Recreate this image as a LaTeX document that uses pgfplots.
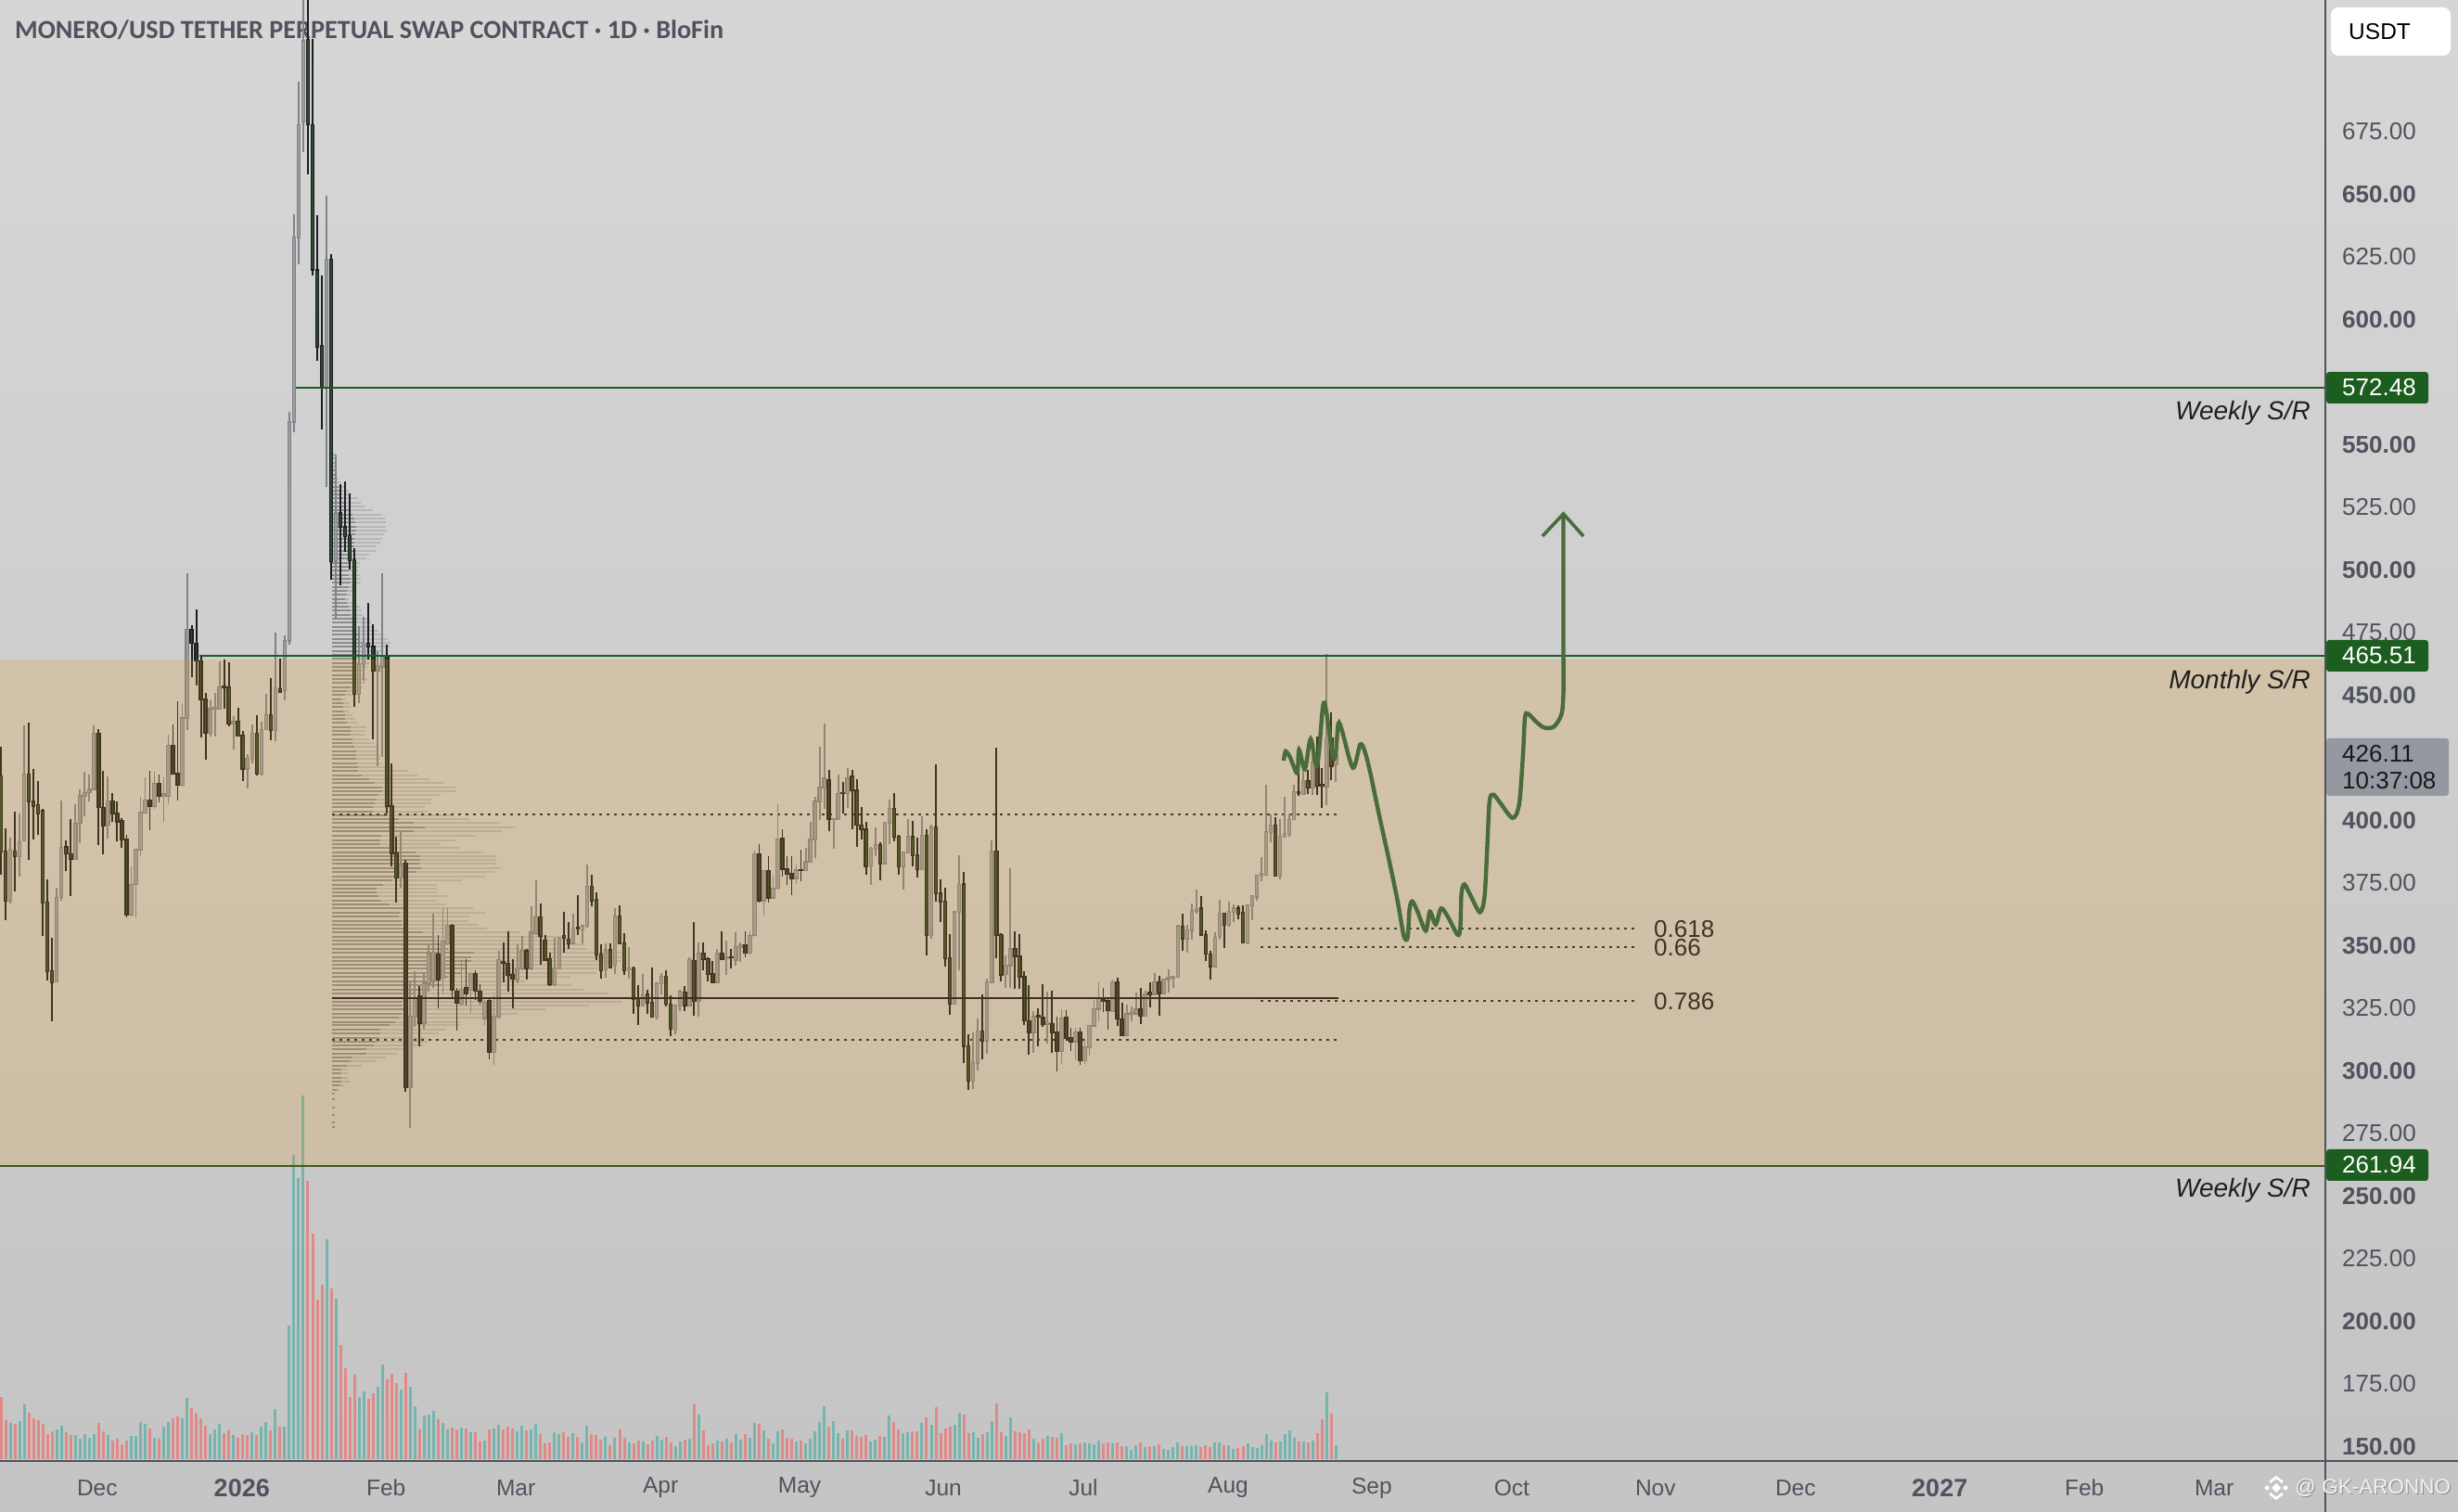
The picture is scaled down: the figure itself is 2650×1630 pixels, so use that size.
\documentclass[border=0pt]{standalone}
\usepackage{pgfplots}
\usepackage{pgfplotstable}
\usepackage{fontspec}
\pgfplotsset{compat=1.18}
\setmainfont{Liberation Sans}
\newfontfamily\titlefont{Carlito}
\definecolor{axc}{HTML}{50535E}
\definecolor{upb}{HTML}{808288}
\definecolor{upf}{HTML}{9A9CA2}
\definecolor{dnb}{HTML}{1C1C22}
\definecolor{dnf}{HTML}{2F4A2A}
\definecolor{ovl}{RGB}{225,150,25}
\definecolor{srg}{HTML}{1B5E20}
\definecolor{vt}{HTML}{76B5AE}
\definecolor{vr}{HTML}{E08A88}
\definecolor{proj}{HTML}{4A6B3A}
\definecolor{tick}{HTML}{50535E}
\pgfplotsset{
  ebar/.style 2 args={draw=none,mark=none,forget plot,error bars/.cd,y dir=plus,y explicit,error mark=none,error bar style={draw=#1,line width=#2,solid}},
  xbar2/.style 2 args={draw=none,mark=none,forget plot,error bars/.cd,x dir=plus,x explicit,error mark=none,error bar style={draw=#1,line width=2pt,solid,opacity=#2}},
}
\pgfplotstableread{
k t b h l
2 388.2 367.7 393.1 366.6
4 391.2 385.5 402.7 377.6
5 418.3 391.9 437.8 391.5
12 369 335.6 373 335.6
13 389.1 369.3 407.8 367.7
16 398.8 384.6 406.3 384.2
17 409.6 398.8 412.2 390.8
18 410.8 409.6 419.3 401.4
19 412.2 411 418.2 407.4
20 434.7 412.4 437.8 412
23 407.6 398.1 417.6 392.8
28 374.3 362.4 381.6 361.7
29 388.2 374.6 388.8 361.1
30 403 388.2 409.3 385.8
31 407.8 403 417.3 402.7
33 414.6 405.6 419.5 404.7
35 410.3 409.7 417.3 399.4
36 429.8 409.7 434.1 406.3
39 440.7 414 446.4 413.3
40 476.1 440.7 498.6 436
45 444.4 434.9 448 433.5
46 445 444.6 450.7 433.5
47 453.2 444.6 463.3 444.4
50 439.5 438.4 441.7 428.2
53 424.5 420.6 426.5 412.6
54 434.7 424.5 438.2 422.6
56 436.2 418.6 439.5 417.9
57 442.1 436.2 450.3 436
59 452.7 436 474.8 431.4
61 471.7 451.9 473.7 447.7
62 559.1 471.7 563 470
63 632.6 559.1 642 554.7
64 677.6 632.6 694.8 622
65 711 678.8 730 666.7
70 623.8 572.6 649.1 533
72 522.5 503.5 546 480.3
77 462.2 450.3 477.4 446.8
78 470.2 462.2 481 455.6
81 461.6 459.8 467.5 421.6
82 465.5 461.3 498.6 425.2
86 382.2 377.2 395.9 373.2
88 321.6 293.3 335.8 277
89 328.7 321.6 339.6 317.4
91 334.8 319.1 338.6 316.7
92 346.4 334.8 350 331.5
93 347.1 335.8 362.7 333
95 351.7 337.2 364.8 330.8
96 358 350.7 364.8 350
99 332.3 326.6 344.6 325.9
101 338.6 332.3 338.9 323
104 327.3 321 328.3 318.4
106 321.6 307.5 330.1 302.5
107 344.3 321.6 347.9 320.9
111 340.8 336.5 350.4 334.8
112 347.8 340.8 353.8 340
114 355.2 341 365.6 340.3
115 361.3 354.9 375.9 354.2
119 340.8 334.4 353.1 334
120 352.8 340.8 353.5 340.5
123 356.8 351 362.7 350.7
125 357.8 356.4 357.8 350.7
126 373.6 357.8 382.5 357
130 348.1 340.3 350.7 337.2
132 361.7 342.2 364.8 338.6
135 340.8 340.3 349.3 336.9
138 330.1 325.9 338.6 325.9
141 334.8 321.6 335.4 320.6
142 337.6 334.8 339 330.4
145 325.9 316.7 326.2 314.6
146 331.5 325.9 332.2 323.8
148 344.3 326.2 345.4 325.9
150 346.9 327.7 351.4 321.6
154 346.9 335.4 348.6 335.1
156 345.4 345 352.1 338.4
158 349.3 344.3 355.2 341.9
159 350 349.3 351.4 343.3
161 354 347.1 355.6 346.4
162 386.5 354 387.8 353.5
164 379.7 368 379.7 362
166 372.9 369.1 377.9 368.7
167 392.3 372.9 406.4 372.4
171 380 376.9 382.2 374.7
173 383.3 380 389 379.7
174 392.3 383.3 399.4 383.1
175 407.4 392.3 409.3 384.9
176 412.9 407.4 429.3 400.1
177 416.6 412.9 438.6 404.7
179 400.6 400.3 401 388.6
180 410.6 400.3 418.2 400.1
182 416.8 410.8 420.7 405
187 388.6 381.8 389.2 374.2
188 390.2 388.6 397 385.5
190 399.1 382.8 399.4 382.8
191 404.7 399.1 408.1 390.5
194 387.1 381.5 387.4 372.3
195 393.3 387 400.3 386.8
198 393.9 380.3 401.6 380
200 397 354.1 398.1 352.8
205 363.3 326.7 363.9 326.5
206 374.1 363.3 385.9 340.2
209 303.2 296.1 315.2 292.7
210 315.6 303.2 320.7 300.1
212 335.3 312.1 336.8 306.8
213 387.6 335.3 391.9 334.9
216 342.1 338.6 346 333
217 348.5 342.1 380.8 333
222 321.6 315.4 323.8 307.2
225 319.1 318.5 331.6 310.9
228 321 307.8 324.7 302.6
231 315.4 311.7 317 304.1
233 309.3 304.1 313 302.6
234 318 309.3 318.3 305.9
235 324.7 318 328.1 317.7
236 328.8 324.7 335.3 319.9
239 335.5 323.8 336.4 323.5
242 322.6 314.3 326.5 314
243 323.2 322.6 325.7 319.9
244 324.4 322.8 331.2 322.6
246 330.6 321.9 331.8 321.6
248 335.3 330.6 339 330.2
250 336.4 331 336.8 330.6
251 337 336.4 340.5 331.2
252 337.6 337 338 333
253 357.8 337.6 358.1 337.4
255 356.2 352.8 358.1 347.3
256 363.9 356.2 366.6 352.2
257 364.5 363.9 372.3 362.7
261 353.2 341.7 355.3 341.7
262 362.7 353.7 368.2 352.2
264 363.5 358.1 367.4 357.7
265 364.8 363.5 366.4 359.4
268 366 351.3 366 350.6
269 369.7 366 370.1 360.2
270 377.9 369.5 378.1 368
271 378.5 377.9 385.3 375.6
272 395.4 378.1 414.1 378.1
273 397.9 395.1 402.4 391.3
275 393.5 377.9 400.3 376.5
276 394.5 393.5 409.3 393.5
277 400.3 394.5 402.8 393.5
278 411.4 400.3 414.1 400.1
280 415.7 410.4 420 410.2
282 422.9 412.9 429.3 410.2
285 432.4 413.3 466.3 406.1
287 426.1 422.2 430 415.4
}\upT
\pgfplotstableread{
k t b h l
0 417.7 387.5 429.2 378.3
1 387.5 367.7 396.8 360.2
3 387.5 385.5 403.6 371.7
6 418.3 407.4 438.8 384.2
7 407.4 405.8 420.6 392.4
8 406 402.7 415.6 394.1
9 403.7 367 404.4 353.8
10 367.3 339.7 376.3 335.9
11 339.9 335.3 353.1 319.8
14 389.2 386.6 392.1 379.6
15 386.6 384.7 400.5 369.7
21 434.7 405.1 436.4 390.2
22 405.1 397.7 419.7 386.5
24 407.6 402.7 410.8 399.4
25 402.7 399.2 407.4 391.5
26 399.7 392.4 400.7 389.1
27 392.5 362.4 394.1 361.1
32 407.8 405.8 419.7 396.1
34 414.6 409.6 418.2 407.2
37 429.8 418.5 438.2 418.5
38 418.5 414 447.4 408
41 476.1 470.8 477.8 457.2
42 470.6 463.6 484 453.9
43 463.6 448.3 465.8 433.1
44 448.3 434.7 450.7 424.3
48 453.6 453 464.1 444.4
49 453.2 438.4 462.9 437.5
51 439.5 433.8 444.8 433.5
52 433.8 420.6 435.5 415.6
55 434.7 418.6 441.9 417.7
58 442.1 436 456.9 432.1
60 452.3 451.3 464.5 451
66 711.6 677.6 730 657.9
67 677.6 619.8 712 617.6
68 619.5 589 641.5 583.5
69 589.5 572.6 617.3 555.9
71 623.8 503.2 626 495.9
73 522.5 517 534 493.7
74 517 513.4 535.2 507
75 513.4 503.8 530.6 499.9
76 503.8 450.3 508.6 445.3
79 470.4 469.2 486.7 464.2
80 469.2 459.8 478.4 432.2
83 465.5 405.6 470.2 402.7
84 405.6 386.9 422.6 381.6
85 386.9 377.2 393.5 367.3
87 382.8 293.3 384 291.6
90 329.7 319.1 334 309.9
94 346.4 336.5 354.2 324.8
97 358 332.3 358.5 329.4
98 331.8 327.3 333.2 315.9
100 333 330.8 344.6 325.9
102 338.6 332 340.3 328.3
103 331.8 328 334.7 326.6
105 328 307.5 328.7 304.6
108 343.6 342.9 351.4 335.4
109 342.9 338.2 355.6 331.5
110 338.2 336.8 344.6 324.8
113 347.8 341 348.6 336.5
116 361.3 353.8 366.6 342.2
117 352 344.3 354.2 343.9
118 344.6 334.4 347.1 334
121 353.8 353.2 363.4 347.1
122 352.5 350.7 359.2 348.6
124 357 356.6 370.2 354.2
127 373.6 368 378.4 365.6
128 368.2 346.4 371.2 344.3
129 346.4 340 350.3 336.9
131 348.1 341.2 350.7 340.8
133 361.7 351 366 350.7
134 351 340 355 338.4
136 340.8 328.7 341.5 322.8
137 328.7 325.9 334.1 318.4
139 330.4 327.3 332.5 322.6
140 327.3 321.6 341.2 321.6
143 337.6 326.6 340 325.5
144 326.6 316.7 330.1 313.8
147 331.3 326.2 334 323.8
149 344 327.7 359.2 322
151 346.9 344.6 351.1 340
152 344.6 338.6 345.3 335.8
153 338.6 335.4 343.9 335.1
155 346.9 344.7 355.8 344.3
157 345.4 345.1 348.6 340.8
160 350 347.1 355.8 345.4
163 386.5 368 390.6 367
165 379.7 369.1 385.7 367
168 392.6 380.6 396.3 377.5
169 380.6 378.7 385.5 374.2
170 378.5 376.9 385.5 370.1
172 380.2 380 388.2 375.7
178 416 400.3 420.1 395.8
181 411 410.7 415.1 402.8
183 417.4 411.8 420.1 396.4
184 411.8 398.1 416.4 389.5
185 397.9 396.3 405.3 392.3
186 396.3 381.5 399.4 378.4
189 390.2 382.8 391.1 376
192 404.7 393.5 410.8 391.7
193 393.5 381.5 394.2 378.4
196 393.3 386.1 399.7 381.5
197 386.1 380.3 392.9 377.1
199 393.9 354.1 396.3 346
201 397 370.7 422.2 367.6
202 370.7 367.6 376.3 359.4
203 367.6 344.8 373.2 341.7
204 345 326.7 354.4 322.3
207 374.4 309.9 379.2 303
208 309.9 296.1 314.6 292.4
211 315.6 311.9 330.6 304.7
214 387.6 354.1 429 344.8
215 354.1 338.4 354.9 335.5
218 348.5 345.8 355.7 332.7
219 345.8 337.6 354.4 332.7
220 337.4 320.1 339.6 318.3
221 319.9 315.4 334.1 306.5
223 321.9 321.5 324.8 309.9
224 321.1 318.5 334.6 317.6
226 318.6 315.2 331.8 307.2
227 315.4 307.8 321.6 299.8
229 321.4 313 324.2 312.1
230 313.1 311.7 317 307.8
232 315.4 304.1 317 302.5
237 328.8 327.8 333.1 323.6
238 327.8 324 329 316.4
240 335.5 320.7 337 318
241 320.4 314.3 327.2 314
245 324.4 321.9 333 318.6
247 331.1 330.6 335.3 325.4
249 335.3 331 337.8 322
254 357.5 352.8 362.7 347.9
258 364.8 354.3 369.7 354.1
259 354.3 346.7 355.9 343.8
260 346.6 341.7 348 336.5
263 362.7 358.1 363 349.1
266 364.8 362.7 366 360.5
267 363.1 351.3 366 351.3
274 397.9 377.9 401.2 377.9
279 411.4 410.8 418.8 409.6
281 415.7 412.9 420 410.6
283 422.9 413.6 433.6 410.2
284 414.1 413.6 420.7 405
286 432.8 421.7 442.9 416.1
}\dnT
\pgfplotstableread{
p o i
546 4 2
544.4 4 2
542.8 4 2
541.2 4 2
539.6 5 3
538 5 3
536.4 7 4
534.8 10 5
533.2 14 7
531.6 18 9
530 21 10
528.4 28 12
526.8 31 13
525.2 36 15
523.6 44 18
522 54 22
520.4 57 24
518.8 58 25
517.2 58 26
515.6 59 26
514 56 25
512.4 54 24
510.8 52 24
509.2 48 24
507.6 47 24
506 40 22
504.4 37 22
502.8 30 20
501.2 29 18
499.6 28 18
498 30 18
496.4 31 20
494.8 30 20
493.2 25 18
491.6 22 16
490 20 16
488.4 18 14
486.8 24 16
485.2 30 18
483.6 32 20
482 33 20
480.4 38 22
478.8 42 22
477.2 45 24
475.6 50 26
474 55 28
472.4 60 30
470.8 63 32
469.2 62 32
467.6 55 30
466 48 28
464.4 42 26
462.8 40 24
461.2 38 24
459.6 35 22
458 32 22
456.4 38 24
454.8 36 22
453.2 33 20
451.6 27 16
450 21 14
448.4 15 10
446.8 18 12
445.2 20 12
443.6 18 12
442 22 14
440.4 25 14
438.8 28 16
437.2 37 20
435.6 36 20
434 36 20
432.4 40 22
430.8 45 22
429.2 50 24
427.6 50 26
426 51 26
424.4 52 26
422.8 54 27
421.2 62 28
419.6 82 28
418 92 32
416.4 105 40
414.8 120 46
413.2 133 54
411.6 134 54
410 117 50
408.4 107 48
406.8 107 46
405.2 100 44
403.6 103 44
402 130 60
400.6 148 72
398.9 182 88
397.1 198 100
395.5 183 88
393.8 155 53
392 133 52
390.6 117 52
388.9 138 70
387.2 163 90
385.8 177 95
384.3 177 95
382.7 177 95
381 182 96
379.3 175 90
377.6 165 68
376 140 65
374.3 113 55
372.8 113 48
371.2 113 48
369.7 125 50
368 113 53
366.3 122 62
364.8 152 82
363.1 165 73
361.5 148 72
359.9 147 75
358.3 158 75
356.8 167 82
355.2 203 98
353.5 248 108
352 255 112
350.4 272 118
348.8 275 125
347.1 312 153
345.4 312 150
343.9 312 150
342.2 288 145
340.8 287 145
339.1 285 140
337.5 257 125
335.8 208 105
334.1 258 118
332.5 272 105
330.9 298 90
329.1 322 78
327.7 313 75
326.2 277 75
324.5 230 78
322.8 200 75
321.2 175 72
319.5 138 68
318.1 138 62
316.4 123 52
314.8 115 52
313.1 102 50
311.6 103 48
310 98 45
308.5 85 37
306.9 70 37
305.2 58 22
303.8 47 20
302.1 32 16
300.5 17 10
299 17 10
297.3 18 10
295.7 20 10
294.1 13 8
292.5 7 5
290.9 3 3
288.5 3 3
285.5 3 3
282.5 3 3
279.5 3 3
277.7 3 3
}\profT
\begin{document}
\begin{tikzpicture}
\useasboundingbox (0pt,0pt) rectangle (2650pt,1630pt);
\shade[top color=black!16,bottom color=black!23] (0pt,0pt) rectangle (2650pt,1630pt);
\begin{scope}[x=1pt,y=-1pt,yshift=1630pt]
\node[anchor=west,inner sep=0pt,text=axc] at (16,32) {\titlefont\bfseries\fontsize{28.2}{30}\selectfont MONERO/USD TETHER PERPETUAL SWAP CONTRACT · 1D · BloFin};
\end{scope}
% volume
\begin{axis}[at={(0pt,55pt)},anchor=south west,scale only axis,width=2507pt,height=1575pt,
  xmin=-0.2,xmax=499.7,ymin=-5,ymax=4720,hide axis,clip=true]
\addplot[ycomb,vt,line width=3pt,mark=none] table[row sep=\\] {
x y\\
2 118\\ 4 124\\ 5 178\\ 12 97\\ 13 109\\ 16 79\\ 17 67\\ 18 82\\ 19 70\\ 20 82\\ 23 79\\ 28 76\\ 29 76\\ 30 121\\ 31 115\\ 33 70\\ 35 106\\ 36 121\\ 39 133\\ 40 199\\ 45 82\\ 46 97\\ 47 115\\ 50 79\\ 54 88\\ 56 106\\ 57 121\\ 59 163\\ 61 106\\ 62 433\\ 63 985\\ 64 910\\ 65 1177\\ 70 712\\ 72 520\\ 77 202\\ 78 220\\ 81 235\\ 82 307\\ 86 226\\ 88 235\\ 89 172\\ 91 142\\ 92 145\\ 93 157\\ 95 118\\ 96 97\\ 99 103\\ 101 88\\ 104 61\\ 106 100\\ 107 112\\ 111 91\\ 112 109\\ 114 97\\ 115 115\\ 119 88\\ 120 82\\ 123 85\\ 125 55\\ 126 109\\ 130 73\\ 132 70\\ 135 55\\ 138 58\\ 141 76\\ 142 64\\ 145 43\\ 146 58\\ 148 67\\ 150 145\\ 154 61\\ 156 67\\ 158 82\\ 159 64\\
161 69\\ 162 117\\ 164 93\\ 166 51\\ 167 90\\ 171 57\\ 173 51\\ 174 66\\ 175 90\\ 176 120\\ 177 171\\ 179 123\\ 180 84\\ 182 93\\ 187 57\\ 188 63\\ 190 72\\ 191 141\\ 194 84\\ 195 87\\ 198 117\\ 200 111\\ 205 111\\ 206 150\\ 209 87\\ 210 69\\ 212 87\\ 213 123\\ 216 75\\ 217 135\\ 222 66\\ 225 75\\ 228 84\\ 231 48\\ 233 54\\ 234 51\\ 235 48\\ 236 60\\ 239 51\\ 242 42\\ 243 30\\ 244 45\\ 246 39\\ 248 42\\ 250 33\\ 251 30\\ 252 39\\ 253 54\\ 255 42\\ 256 42\\ 257 45\\ 261 54\\ 262 54\\ 264 45\\ 265 33\\ 268 51\\ 269 39\\ 270 36\\ 271 45\\ 272 81\\ 273 60\\ 275 57\\ 276 81\\ 277 93\\ 278 69\\ 280 57\\ 282 60\\ 285 216\\ 287 45\\
};
\addplot[ycomb,vr,line width=3pt,mark=none] table[row sep=\\] {
x y\\
0 202\\ 1 127\\ 3 115\\ 6 151\\ 7 133\\ 8 127\\ 9 115\\ 10 82\\ 11 91\\ 14 88\\ 15 79\\ 21 118\\ 22 91\\ 24 61\\ 25 67\\ 26 49\\ 27 61\\ 32 100\\ 34 67\\ 37 133\\ 38 139\\ 41 166\\ 42 151\\ 43 133\\ 44 109\\ 48 85\\ 49 94\\ 51 70\\ 52 82\\ 53 79\\ 55 79\\ 58 94\\ 60 106\\ 66 901\\ 67 730\\ 68 517\\ 69 565\\ 71 553\\ 73 370\\ 74 295\\ 75 202\\ 76 274\\ 79 196\\ 80 214\\ 83 259\\ 84 277\\ 85 247\\ 87 280\\ 90 97\\ 94 130\\ 97 103\\ 98 97\\ 100 100\\ 102 88\\ 103 58\\ 105 97\\ 108 97\\ 109 106\\ 110 100\\ 113 94\\ 116 82\\ 117 52\\ 118 55\\ 121 88\\ 122 73\\ 124 73\\ 127 82\\ 128 79\\ 129 64\\ 131 46\\ 133 97\\ 134 70\\ 136 52\\ 137 61\\ 139 49\\ 140 61\\ 143 73\\ 144 55\\ 147 64\\ 149 178\\ 151 94\\ 152 46\\ 153 52\\ 155 58\\ 157 55\\
160 81\\ 163 114\\ 165 66\\ 168 96\\ 169 69\\ 170 66\\ 172 60\\ 178 105\\ 181 66\\ 183 93\\ 184 75\\ 185 72\\ 186 78\\ 189 75\\ 192 120\\ 193 96\\ 196 90\\ 197 90\\ 199 135\\ 201 168\\ 202 84\\ 203 99\\ 204 105\\ 207 144\\ 208 84\\ 211 81\\ 214 180\\ 215 87\\ 218 90\\ 219 87\\ 220 84\\ 221 96\\ 223 54\\ 224 66\\ 226 72\\ 227 69\\ 229 45\\ 230 51\\ 232 51\\ 237 51\\ 238 54\\ 240 54\\ 241 42\\ 245 54\\ 247 42\\ 249 48\\ 254 42\\ 258 39\\ 259 45\\ 260 39\\ 263 45\\ 266 36\\ 267 42\\ 274 54\\ 279 57\\ 281 54\\ 283 84\\ 284 129\\ 286 147\\
};
\end{axis}
% price
\begin{axis}[at={(0pt,55pt)},anchor=south west,scale only axis,width=2507pt,height=1575pt,
  xmin=-0.2,xmax=499.7,ymin=144.25,ymax=727.4,
  axis line style={draw=none},major tick length=0pt,
  ytick pos=right,yticklabel pos=right,xtick pos=bottom,
  ytick={150,175,200,225,250,275,300,325,350,375,400,425,450,475,500,525,550,600,625,650,675},
  yticklabels={\textbf{150.00},175.00,\textbf{200.00},225.00,\textbf{250.00},275.00,\textbf{300.00},325.00,\textbf{350.00},375.00,\textbf{400.00},,\textbf{450.00},475.00,\textbf{500.00},525.00,\textbf{550.00},\textbf{600.00},625.00,\textbf{650.00},675.00},
  yticklabel style={font=\fontsize{26}{28}\selectfont,text=tick,anchor=west,inner sep=0pt,xshift=18pt},
  xtick={20.7,51.8,82.8,110.7,141.8,171.7,202.6,232.7,263.8,294.7,324.8,355.7,385.8,416.8,447.9,475.8},
  xticklabels={Dec,\textbf{\fontsize{27}{28}\selectfont 2026},Feb,Mar,Apr,May,Jun,Jul,Aug,Sep,Oct,Nov,Dec,\textbf{\fontsize{27}{28}\selectfont 2027},Feb,Mar},
  xticklabel style={font=\fontsize{24.5}{28}\selectfont,text=tick,anchor=center,inner sep=0pt,yshift=-29pt},
]
% volume profile
\addplot[xbar2={gray}{0.32}] table[x expr=71.2,y=p,x error plus expr=\thisrow{o}/5.015] {\profT};
\addplot[xbar2={black!62}{0.48}] table[x expr=71.2,y=p,x error plus expr=\thisrow{i}/5.015] {\profT};
% level lines
\addplot[forget plot,mark=none,black!85,line width=2pt,dash pattern=on 2.5pt off 5.5pt] coordinates {(71.2,402.4) (287.6,402.4)};
\addplot[forget plot,mark=none,black!85,line width=2pt,dash pattern=on 2.5pt off 5.5pt] coordinates {(71.2,312.4) (287.6,312.4)};
\addplot[forget plot,mark=none,black!85,line width=2pt,dash pattern=on 2.5pt off 5.5pt] coordinates {(270.8,356.9) (351.2,356.9)};
\addplot[forget plot,mark=none,black!85,line width=2pt,dash pattern=on 2.5pt off 5.5pt] coordinates {(270.8,349.5) (351.2,349.5)};
\addplot[forget plot,mark=none,black!85,line width=2pt,dash pattern=on 2.5pt off 5.5pt] coordinates {(270.8,327.8) (351.2,327.8)};
% up candles
\addplot[ebar={upb}{1.8pt}] table[x=k,y=l,y error plus expr=\thisrow{h}-\thisrow{l}] {\upT};
\addplot[ebar={upb}{4.6pt}] table[x=k,y expr=\thisrow{b}-0.35,y error plus expr=\thisrow{t}-\thisrow{b}+0.7] {\upT};
\addplot[ebar={upf}{2.2pt}] table[x=k,y expr=\thisrow{b}+0.1,y error plus expr={max(\thisrow{t}-\thisrow{b}-0.2,0)}] {\upT};
% down candles
\addplot[ebar={dnb}{1.8pt}] table[x=k,y=l,y error plus expr=\thisrow{h}-\thisrow{l}] {\dnT};
\addplot[ebar={dnb}{4.6pt}] table[x=k,y expr=\thisrow{b}-0.35,y error plus expr=\thisrow{t}-\thisrow{b}+0.7] {\dnT};
\addplot[ebar={dnf}{1.6pt}] table[x=k,y expr=\thisrow{b}+0.1,y error plus expr={max(\thisrow{t}-\thisrow{b}-0.2,0)}] {\dnT};
% tan zone
\addplot[forget plot,fill=ovl,fill opacity=0.2,draw=none] coordinates {(-1,261.94) (-1,464.3) (500,464.3) (500,261.94)} -- cycle;
% POC
\addplot[forget plot,mark=none,color={rgb,255:red,68;green,48;blue,32},line width=2.4pt] coordinates {(71.2,329.1) (287.6,329.1)};
% S/R lines
\addplot[forget plot,mark=none,srg,line width=2pt] coordinates {(63.4,572.48) (500,572.48)};
\addplot[forget plot,mark=none,srg,line width=2pt] coordinates {(42.7,465.51) (500,465.51)};
\addplot[forget plot,mark=none,color={rgb,255:red,62;green,90;blue,31},line width=2.5pt] coordinates {(-1,261.94) (500,261.94)};
% projected path
\addplot[forget plot,mark=none,proj,line width=4.4pt,smooth,tension=0.5] coordinates {
(275.77,423.8) (276.18,427.5) (277.17,425) (278.66,418.8) (279.07,428.1) (280.32,420.4) (281.56,432.4) (282.96,421.7) (284.2,445.4) (284.87,444.1) (286.27,426.2) (286.93,426.2) (287.51,438.6) (288.34,435.5) (290.65,420.9) (292.23,430.3) (293.3,426.9) (294.54,417.6) (296.2,402.8) (298.68,381.8) (300.33,367) (301.57,354) (302.4,353.1) (302.81,364.5) (303.39,367.6) (304.47,363.9) (306.29,355.9) (307.2,363.5) (308.44,358.4) (309.6,364.8) (311.08,361.4) (313.15,354.3) (313.73,357.1) (313.98,370.7) (314.64,374.4) (316.05,369.5) (317.95,363.3) (318.94,369.5) (319.52,389.2) (320.02,407.7) (320.85,410.2) (322.25,407.1) (324.98,400.9) (326.39,406.5) (327.21,426.2) (327.63,441) (328.29,442.5) (330.11,439.2) (331.76,437) (333.83,437.3) (335.48,442.3) (335.9,450.9) (335.9,465.7) (335.9,522.3)};
\addplot[forget plot,mark=none,proj,line width=3.6pt] coordinates {(331.4,513.4) (335.9,522.3) (340.2,513.4)};
\end{axis}
\begin{scope}[x=1pt,y=-1pt,yshift=1630pt]
\draw[axc,line width=2.5pt] (2507,0)--(2507,1630);
\draw[axc,line width=2.5pt] (0,1575)--(2650,1575);
% price tags
\fill[srg,rounded corners=3pt] (2508,401) rectangle (2618,435);
\fill[srg,rounded corners=3pt] (2508,690) rectangle (2618,724);
\fill[srg,rounded corners=3pt] (2508,1239) rectangle (2618,1273);
\fill[fill={rgb,255:red,149;green,152;blue,161},rounded corners=3pt] (2508,796) rectangle (2640,858);
\fill[white,rounded corners=8pt] (2513,8) rectangle (2642,60);
\tikzset{tag/.style={anchor=west,inner sep=0pt,font=\fontsize{26}{28}\selectfont}}
\node[tag,text=white] at (2525,418) {572.48};
\node[tag,text=white] at (2525,707) {465.51};
\node[tag,text=white] at (2525,1256) {261.94};
\node[tag,text=black!90] at (2525,813) {426.11};
\node[tag,text=black!90] at (2525,842) {10:37:08};
\node[anchor=west,inner sep=0pt,font=\fontsize{24.5}{28}\selectfont,text=black] at (2532,34) {USDT};
% annotations
\tikzset{sr/.style={anchor=east,inner sep=0pt,font=\fontsize{28}{30}\selectfont\itshape,text=black!88}}
\node[sr] at (2491,445) {Weekly S/R};
\node[sr] at (2491,735) {Monthly S/R};
\node[sr] at (2491,1283) {Weekly S/R};
\tikzset{fib/.style={anchor=west,inner sep=0pt,font=\fontsize{26}{28}\selectfont,text={rgb,255:red,63;green,50;blue,38}}}
\node[fib] at (1783,1002) {0.618};
\node[fib] at (1783,1022) {0.66};
\node[fib] at (1783,1080) {0.786};
% watermark
\node[anchor=west,inner sep=0pt,font=\fontsize{22.5}{26}\selectfont,text=black!45] at (2475,1605) {@ GK-ARONNO};
\node[anchor=west,inner sep=0pt,font=\fontsize{22.5}{26}\selectfont,text=white!95!black] at (2474,1604) {@ GK-ARONNO};
\fill[white] (2454,1599)--(2459,1604)--(2454,1609)--(2449,1604)--cycle;
\fill[white] (2444,1601)--(2447,1604)--(2444,1607)--(2441,1604)--cycle;
\fill[white] (2464,1601)--(2467,1604)--(2464,1607)--(2461,1604)--cycle;
\draw[white,line width=2.6pt] (2447,1598)--(2454,1592.5)--(2461,1598);
\draw[white,line width=2.6pt] (2447,1610)--(2454,1615.5)--(2461,1610);
\end{scope}
\end{tikzpicture}
\end{document}
